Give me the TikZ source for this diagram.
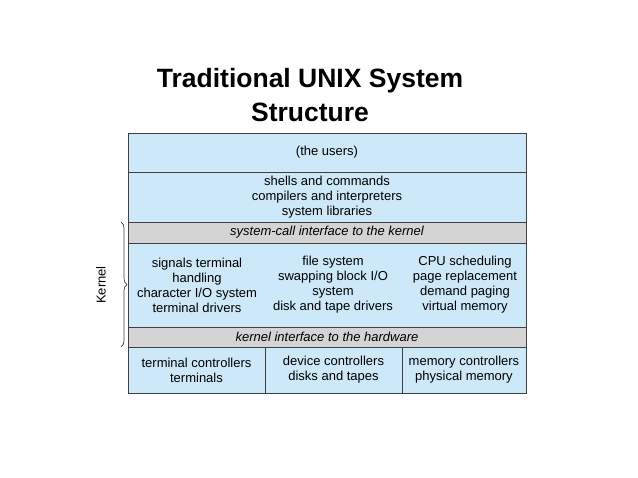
\documentclass[tikz,border=0pt]{standalone}
\usepackage{fontspec}
\setmainfont{Liberation Sans}
\usetikzlibrary{decorations.pathreplacing}
\definecolor{lb}{HTML}{CDE8F8}
\definecolor{gr}{HTML}{D4D4D4}
\definecolor{ln}{HTML}{404040}
\tikzset{x=1pt,y=-1pt,
 cell/.style={draw=ln,line width=0.8pt,fill=lb,inner sep=0pt,align=center,font=\fontsize{13}{15}\selectfont},
 band/.style={cell,fill=gr,font=\fontsize{13}{15}\selectfont\itshape},
 txt/.style={align=center,font=\fontsize{13}{15}\selectfont}}
\begin{document}
\begin{tikzpicture}
\useasboundingbox[fill=white] (0,0) rectangle (638,478);
\node[font=\fontsize{26.5}{34}\selectfont\bfseries,align=center] (title) at (310,95) {Traditional UNIX System\\Structure};
\node[cell,minimum width=398pt,minimum height=39pt] (users) at (327,152.5) {(the users)};
\node[cell,minimum width=398pt,minimum height=50pt] (shells) at (327,197) {shells and commands\\compilers and interpreters\\system libraries};
\node[band,minimum width=398pt,minimum height=21pt] (sys) at (327,232.5) {system-call interface to the kernel};
\node[cell,minimum width=398pt,minimum height=84pt] (kern) at (327,285) {};
\node[txt] (k1) at (197,285) {signals terminal\\handling\\character I/O system\\terminal drivers};
\node[txt] (k2) at (333,285) {file system\\swapping block I/O\\system\\disk and tape drivers};
\node[txt] (k3) at (465,285) {CPU scheduling\\page replacement\\demand paging\\virtual memory};
\node[band,minimum width=398pt,minimum height=20pt] (hw) at (327,337) {kernel interface to the hardware};
\node[cell,minimum width=137pt,minimum height=46pt] (b1) at (196.5,370) {terminal controllers\\terminals};
\node[cell,minimum width=137pt,minimum height=46pt] (b2) at (333.5,370) {device controllers\\disks and tapes};
\node[cell,minimum width=124pt,minimum height=46pt] (b3) at (464,370) {memory controllers\\physical memory};
\coordinate (bb) at (121,347);
\coordinate (bt) at (121,222);
\draw[ln,line width=0.7pt,decorate,decoration={brace,amplitude=6pt,mirror}] (bb) -- (bt);
\node[txt,rotate=90] (kl) at (101,285) {Kernel};
\end{tikzpicture}
\end{document}
